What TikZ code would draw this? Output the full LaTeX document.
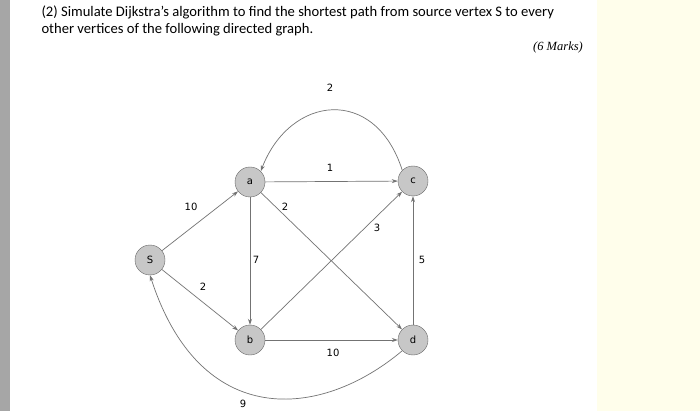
\documentclass[tikz,border=0pt]{standalone}
\usepackage{fontspec}
\setmainfont{Carlito}
\newfontfamily\lbl{DejaVu Sans}
\newfontfamily\mrk{Liberation Serif}
\usetikzlibrary{arrows.meta}
\begin{document}
\begin{tikzpicture}[x=1pt,y=-1pt,
  vert/.style={circle,draw=black!60,fill=black!22,minimum size=30pt,inner sep=0pt,font=\lbl\fontsize{10}{10}\selectfont},
  edge/.style={draw=black!55,line width=0.7pt,-{Stealth[length=6pt,width=4pt]}},
  wt/.style={font=\lbl\fontsize{10}{10}\selectfont}]
\useasboundingbox (0,0) rectangle (700,411);
\fill[black!35] (0,0) rectangle (10,411);
\fill[white] (10,0) rectangle (597,411);
\fill[yellow!8] (597,0) rectangle (700,411);
\node[anchor=west,font=\fontsize{14.6}{16}\selectfont] (t1) at (38,12) {(2) Simulate Dijkstra's algorithm to find the shortest path from source vertex S to every};
\node[anchor=west,font=\fontsize{14.6}{16}\selectfont] (t2) at (38,30) {other vertices of the following directed graph.};
\node[font=\mrk\itshape\fontsize{12.5}{14}\selectfont] (mk) at (558,47) {(6 Marks)};
\node[vert] (S) at (150,260) {S};
\node[vert] (a) at (250,182) {a};
\node[vert] (c) at (413,181) {c};
\node[vert] (b) at (250,340) {b};
\node[vert] (d) at (413,340) {d};
\draw[edge] (S) -- (a);
\draw[edge] (S) -- (b);
\draw[edge] (a) -- (c);
\draw[edge] (a) -- (b);
\draw[edge] (a) -- (d);
\draw[edge] (b) -- (c);
\draw[edge] (b) -- (d);
\draw[edge] (d) -- (c);
\draw[edge] (c.north west) .. controls (375,85) and (290,95) .. (a.north east);
\draw[edge] (d.south west) .. controls (320,420) and (200,430) .. (S.south);
\node[wt] (w1) at (330,88) {2};
\node[wt] (w2) at (330,168) {1};
\node[wt] (w3) at (191,207) {10};
\node[wt] (w4) at (285,207) {2};
\node[wt] (w5) at (377,228) {3};
\node[wt] (w6) at (256,260) {7};
\node[wt] (w7) at (422,260) {5};
\node[wt] (w8) at (203,287) {2};
\node[wt] (w9) at (333,353) {10};
\node[wt] (w10) at (243,404) {9};
\end{tikzpicture}
\end{document}
